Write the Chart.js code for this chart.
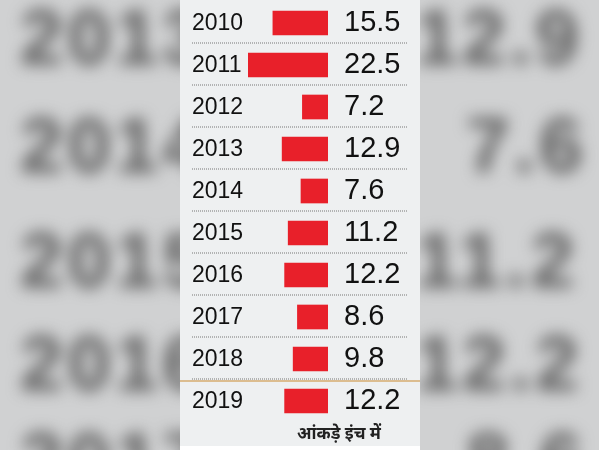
<!DOCTYPE html>
<html>
<head>
<meta charset="utf-8">
<script src="https://cdn.jsdelivr.net/npm/chart.js@4"></script>
<style>
  html, body { margin: 0; padding: 0; }
  body { width: 599px; height: 450px; overflow: hidden; position: relative; background: #d0d1d2; font-family: "Liberation Sans", Arial, sans-serif; }
  .blur { position: absolute; left: 20px; width: 580px; font-size: 78px; font-weight: bold; color: #5a5a5a; filter: blur(8px); white-space: pre; letter-spacing: 4px; }
  #panel { position: absolute; left: 180px; top: 0; width: 240px; height: 446px; background: #eef0f1; }
  #foot { position: absolute; left: 180px; top: 446px; width: 240px; height: 4px; background: #fff; }
  #chart { position: absolute; left: 0; top: 0; }
</style>
</head>
<body>
<div class="blur" style="top:-8px">2013        12.9</div>
<div class="blur" style="top:100px">2014          7.6</div>
<div class="blur" style="top:215px">2015        11.2</div>
<div class="blur" style="top:318px">2016        12.2</div>
<div class="blur" style="top:415px">2017          8.6</div>
<div id="panel"></div>
<div id="foot"></div>
<canvas id="chart" width="599" height="450"></canvas>
<script>
const years = ['2010', '2011', '2012', '2013', '2014', '2015', '2016', '2017', '2018', '2019'];
const rainfall = [15.5, 22.5, 7.2, 12.9, 7.6, 11.2, 12.2, 8.6, 9.8, 12.2];
const valueLabels = ['15.5', '22.5', '7.2', '12.9', '7.6', '11.2', '12.2', '8.6', '9.8', '12.2'];
const note = 'आंकड़े इंच में';

// Year labels, values, dotted separators and footer
const labelPlugin = {
    id: 'labels',
    afterDatasetsDraw(chart) {
        const ctx = chart.ctx;
        const yScale = chart.scales.y;
        ctx.save();
        ctx.textBaseline = 'middle';
        years.forEach((yr, i) => {
            const y = yScale.getPixelForValue(i);
            ctx.fillStyle = '#111';
            ctx.font = '23px "Liberation Sans", Arial, sans-serif';
            ctx.textAlign = 'left';
            ctx.fillText(yr, 192, y + 1);
            ctx.font = '29px "Liberation Sans", Arial, sans-serif';
            ctx.fillText(valueLabels[i], 344, y);
            if (i < years.length - 1) {
                const sep = y + 20;
                if (i === years.length - 2) {
                    ctx.strokeStyle = '#c9892e';
                    ctx.lineWidth = 1;
                    ctx.setLineDash([]);
                    ctx.beginPath(); ctx.moveTo(180, sep + 2); ctx.lineTo(420, sep + 2); ctx.stroke();
                }
                ctx.strokeStyle = '#777';
                ctx.lineWidth = 1;
                ctx.setLineDash([1, 1]);
                ctx.beginPath(); ctx.moveTo(192, sep); ctx.lineTo(408, sep); ctx.stroke();
            }
        });
        ctx.setLineDash([]);
        ctx.fillStyle = '#222';
        ctx.font = 'bold 17px "Noto Sans", sans-serif';
        ctx.textAlign = 'center';
        ctx.fillText(note, 339, 434);
        ctx.restore();
    }
};

new Chart(document.getElementById('chart'), {
    type: 'bar',
    data: {
        labels: years,
        datasets: [{
            data: rainfall,
            backgroundColor: '#e8202a',
            barThickness: 24
        }]
    },
    options: {
        indexAxis: 'y',
        responsive: false,
        animation: false,
        layout: { padding: { left: 248, right: 271, top: 2, bottom: 28 } },
        scales: {
            x: { reverse: true, min: 0, max: 22.5, display: false },
            y: { display: false }
        },
        plugins: { legend: { display: false }, tooltip: { enabled: false } }
    },
    plugins: [labelPlugin]
});
</script>
</body>
</html>
